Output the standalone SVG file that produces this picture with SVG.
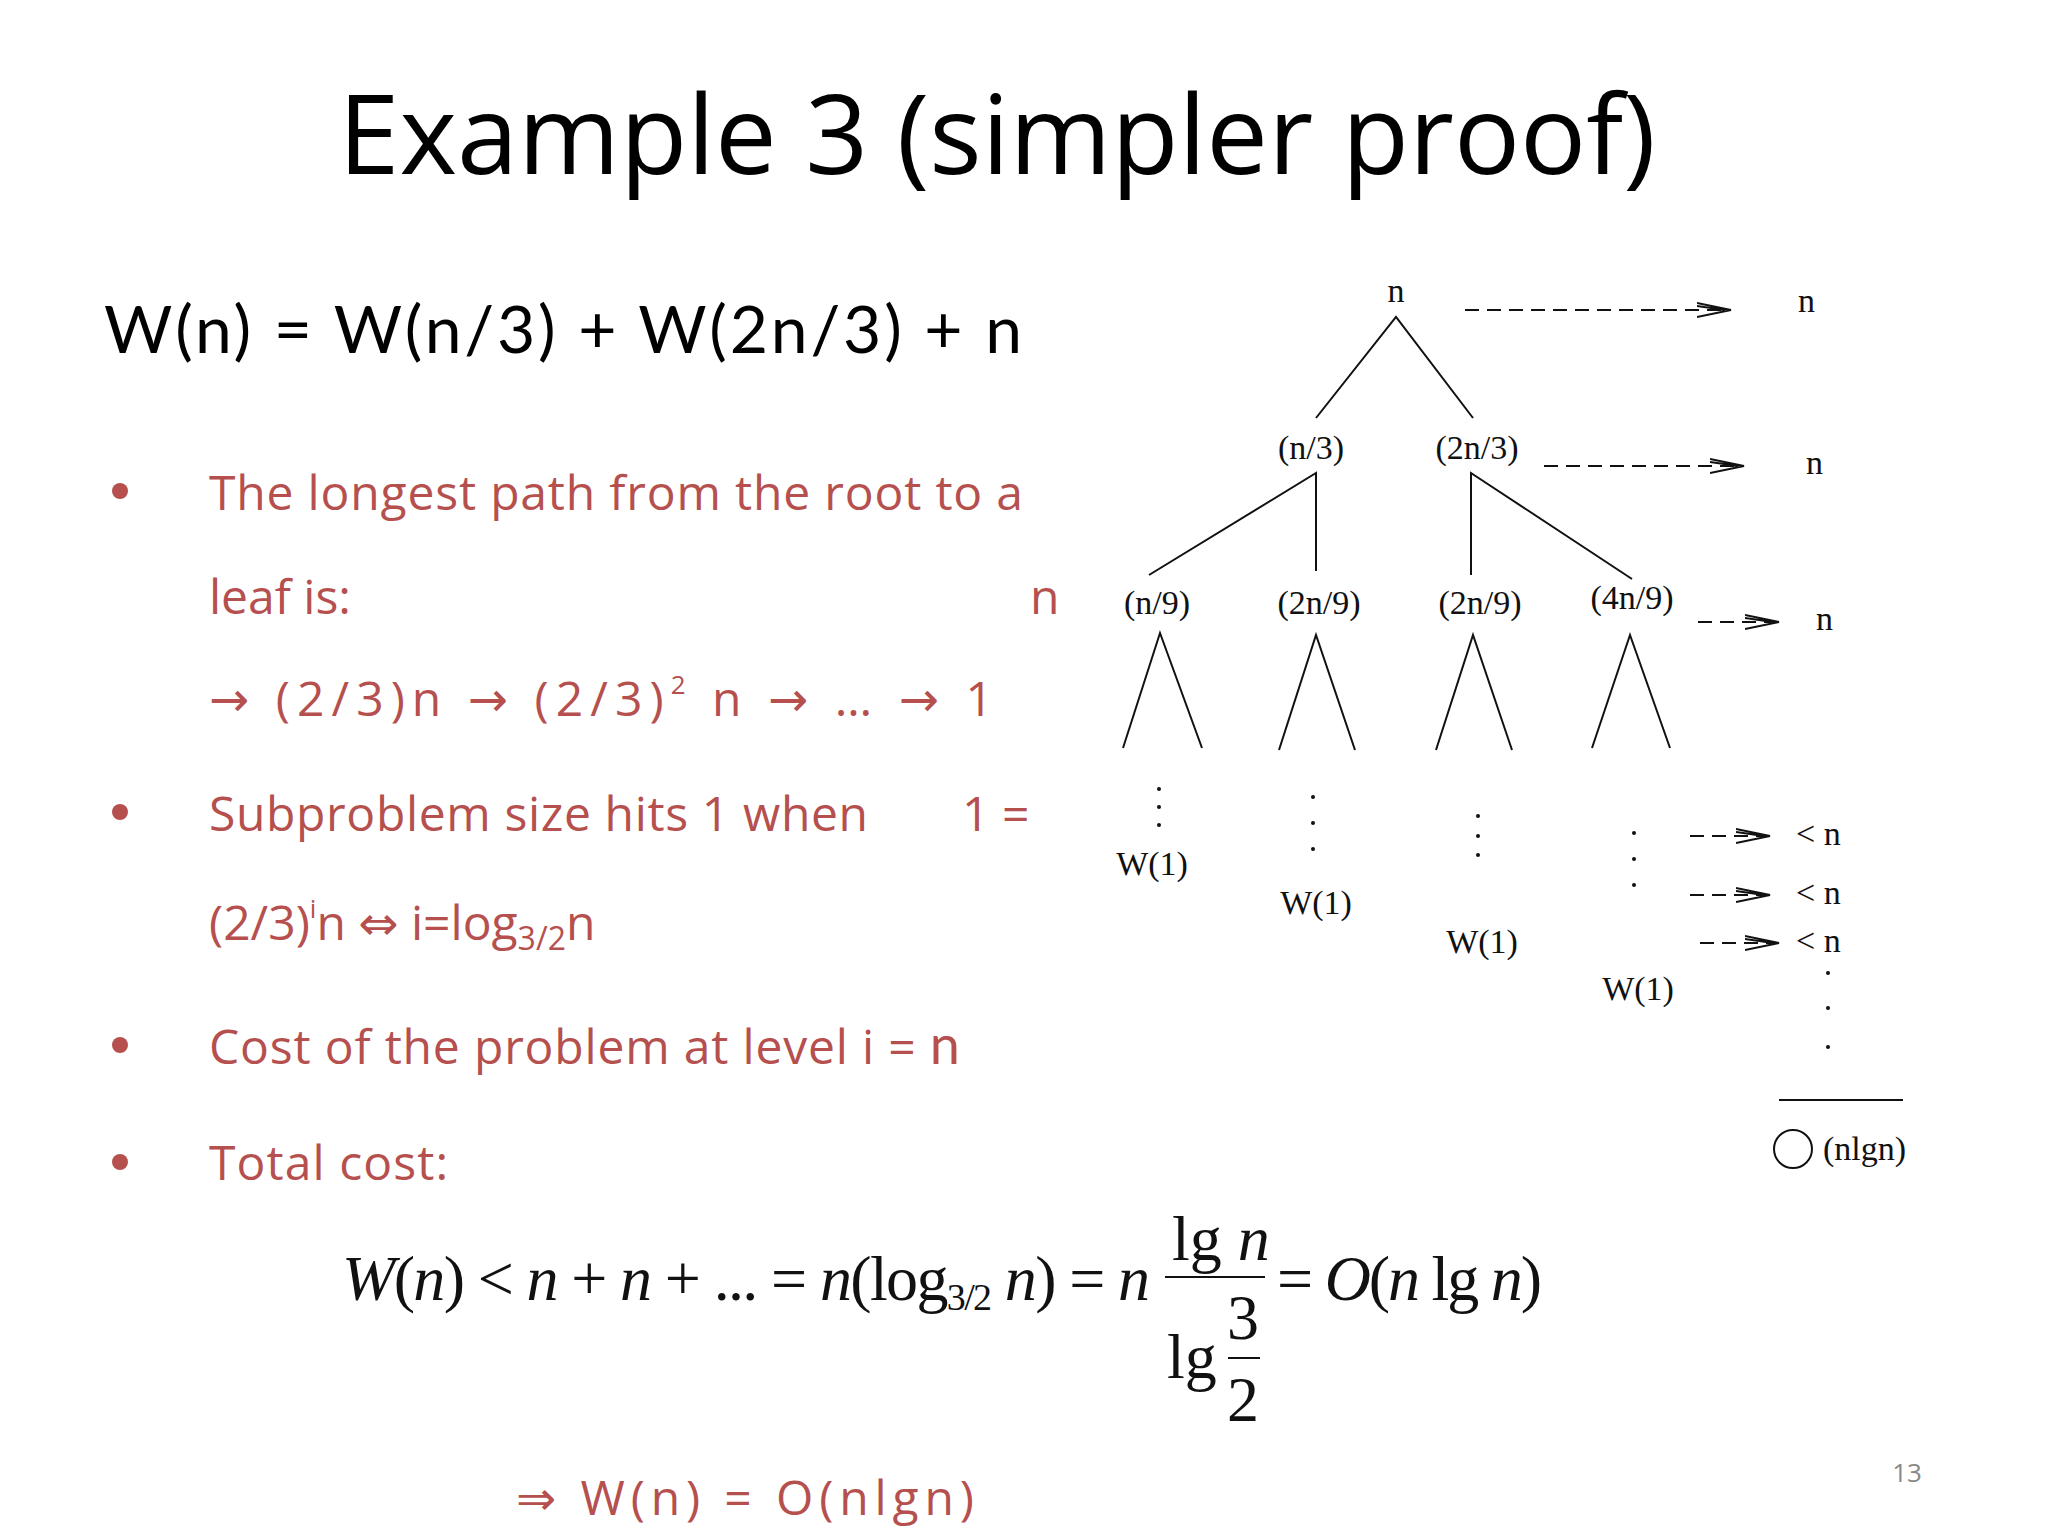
<svg xmlns="http://www.w3.org/2000/svg" width="2048" height="1536" viewBox="0 0 2048 1536">
<defs>
<style>
.t{font-family:"Liberation Serif",serif;font-size:34px;fill:#111}
.r{font-family:"Open Sans","Noto Sans",sans-serif;font-size:48px;fill:#b5504e}
.m{font-family:"Liberation Serif",serif;font-size:64px;fill:#111}
.ln{stroke:#111;stroke-width:2;fill:none}
.da{stroke:#111;stroke-width:2;fill:none;stroke-dasharray:14 8}
</style>
<marker id="ah" markerWidth="36" markerHeight="16" refX="34" refY="8" orient="auto" markerUnits="userSpaceOnUse">
<path d="M0,1 L34,8 L0,15 M0,4 L28,8" fill="none" stroke="#111" stroke-width="1.8"/>
</marker>
</defs>
<rect width="2048" height="1536" fill="#fff"/>
<text x="997" y="174" text-anchor="middle" font-family="Open Sans,Noto Sans,sans-serif" font-size="110" fill="#000">Example 3 (simpler proof)</text>
<text x="104" y="353" font-family="Lato,Open Sans,sans-serif" font-size="66" fill="#000" textLength="918" lengthAdjust="spacing">W(n) = W(n/3) + W(2n/3) + n</text>
<g id="bullets">
<circle cx="120" cy="491" r="8" fill="#b5504e"/>
<circle cx="120" cy="812" r="8" fill="#b5504e"/>
<circle cx="120" cy="1045" r="8" fill="#b5504e"/>
<circle cx="120" cy="1162" r="8" fill="#b5504e"/>
<text class="r" x="209" y="510" textLength="814" lengthAdjust="spacing">The longest path from the root to a</text>
<text class="r" x="209" y="614">leaf is:</text>
<text class="r" x="1030" y="614" font-family="Lato,sans-serif">n</text>
<text class="r" x="209" y="716" font-family="Lato,sans-serif" font-size="56" textLength="784" lengthAdjust="spacing"><tspan font-family="DejaVu Sans">→</tspan> (2/3)n <tspan font-family="DejaVu Sans">→</tspan> (2/3)<tspan font-size="26" dy="-22">2</tspan><tspan dy="22"> n </tspan><tspan font-family="DejaVu Sans">→</tspan> … <tspan font-family="DejaVu Sans">→</tspan> 1</text>
<text class="r" x="209" y="831" textLength="659" lengthAdjust="spacing">Subproblem size hits 1 when</text>
<text class="r" x="962" y="831">1 =</text>
<text class="r" x="209" y="940" font-family="Lato,sans-serif" font-size="54">(2/3)<tspan font-size="26" dy="-22">i</tspan><tspan dy="22">n </tspan><tspan font-family="DejaVu Sans">⇔</tspan> i=log<tspan font-size="32" dy="10">3/2</tspan><tspan dy="-10">n</tspan></text>
<text class="r" x="209" y="1064" textLength="751" lengthAdjust="spacing">Cost of the problem at level i = <tspan font-family="Lato,sans-serif" font-size="54">n</tspan></text>
<text class="r" x="209" y="1180" textLength="239" lengthAdjust="spacing">Total cost:</text>
</g>
<g id="formula">
<text class="m" x="342" y="1300" textLength="808" lengthAdjust="spacing"><tspan font-style="italic">W</tspan>(<tspan font-style="italic">n</tspan>) &lt; <tspan font-style="italic">n</tspan> + <tspan font-style="italic">n</tspan> + ... = <tspan font-style="italic">n</tspan>(log<tspan font-size="38" dy="10">3/2</tspan><tspan dy="-10"> </tspan><tspan font-style="italic">n</tspan>) = <tspan font-style="italic">n</tspan></text>
<text class="m" x="1172" y="1260">lg <tspan font-style="italic">n</tspan></text>
<line class="ln" x1="1165" y1="1277" x2="1265" y2="1277"/>
<text class="m" x="1167" y="1378">lg</text>
<text class="m" x="1243" y="1339" text-anchor="middle">3</text>
<line class="ln" x1="1228" y1="1358" x2="1260" y2="1358"/>
<text class="m" x="1243" y="1421" text-anchor="middle">2</text>
<text class="m" x="1277" y="1300" textLength="265" lengthAdjust="spacing">= <tspan font-style="italic">O</tspan>(<tspan font-style="italic">n</tspan> lg <tspan font-style="italic">n</tspan>)</text>
</g>
<text class="r" x="516" y="1515" font-size="68" font-family="Lato,sans-serif" textLength="458" lengthAdjust="spacing"><tspan font-family="DejaVu Sans">⇒</tspan> W(n) = O(nlgn)</text>
<text x="1907" y="1482" text-anchor="middle" font-family="Open Sans,sans-serif" font-size="26" fill="#888">13</text>
<g id="tree-nodes">
<text class="t" x="1396" y="302" text-anchor="middle">n</text>
<text class="t" x="1311" y="459" text-anchor="middle">(n/3)</text>
<text class="t" x="1477" y="459" text-anchor="middle">(2n/3)</text>
<text class="t" x="1157" y="614" text-anchor="middle">(n/9)</text>
<text class="t" x="1319" y="614" text-anchor="middle">(2n/9)</text>
<text class="t" x="1480" y="614" text-anchor="middle">(2n/9)</text>
<text class="t" x="1632" y="609" text-anchor="middle">(4n/9)</text>
<text class="t" x="1152" y="875" text-anchor="middle">W(1)</text>
<text class="t" x="1316" y="914" text-anchor="middle">W(1)</text>
<text class="t" x="1482" y="953" text-anchor="middle">W(1)</text>
<text class="t" x="1638" y="1000" text-anchor="middle">W(1)</text>
<text class="t" x="1798" y="312">n</text>
<text class="t" x="1806" y="474">n</text>
<text class="t" x="1816" y="630">n</text>
<text class="t" x="1796" y="845">&lt; n</text>
<text class="t" x="1796" y="904">&lt; n</text>
<text class="t" x="1796" y="952">&lt; n</text>
<circle cx="1793" cy="1149" r="19" fill="none" stroke="#111" stroke-width="2"/>
<text class="t" x="1823" y="1160">(nlgn)</text>
</g>
<g id="connectors">
<path class="ln" d="M1316,418 L1396,317 L1473,418"/>
<path class="ln" d="M1149,575 L1316,473 L1316,571 M1471,575 L1471,473 L1632,579"/>
<path class="ln" d="M1123,748 L1160,633 L1202,748 M1279,750 L1316,635 L1355,750 M1436,750 L1473,635 L1512,750 M1592,748 L1630,635 L1670,748"/>
<line class="da" x1="1465" y1="310" x2="1731" y2="310" marker-end="url(#ah)"/>
<line class="da" x1="1544" y1="466" x2="1744" y2="466" marker-end="url(#ah)"/>
<line class="da" x1="1698" y1="622" x2="1779" y2="622" marker-end="url(#ah)"/>
<line class="da" x1="1690" y1="836" x2="1770" y2="836" marker-end="url(#ah)"/>
<line class="da" x1="1690" y1="895" x2="1770" y2="895" marker-end="url(#ah)"/>
<line class="da" x1="1700" y1="943" x2="1779" y2="943" marker-end="url(#ah)"/>
<line class="ln" x1="1779" y1="1100" x2="1903" y2="1100"/>
<g fill="#111">
<circle cx="1159" cy="789" r="2"/><circle cx="1159" cy="807" r="2"/><circle cx="1159" cy="825" r="2"/>
<circle cx="1313" cy="797" r="2"/><circle cx="1313" cy="823" r="2"/><circle cx="1313" cy="849" r="2"/>
<circle cx="1478" cy="816" r="2"/><circle cx="1478" cy="836" r="2"/><circle cx="1478" cy="855" r="2"/>
<circle cx="1634" cy="833" r="2"/><circle cx="1634" cy="859" r="2"/><circle cx="1634" cy="885" r="2"/>
<circle cx="1828" cy="973" r="2"/><circle cx="1828" cy="1008" r="2"/><circle cx="1828" cy="1047" r="2"/>
</g>
</g>
</svg>
